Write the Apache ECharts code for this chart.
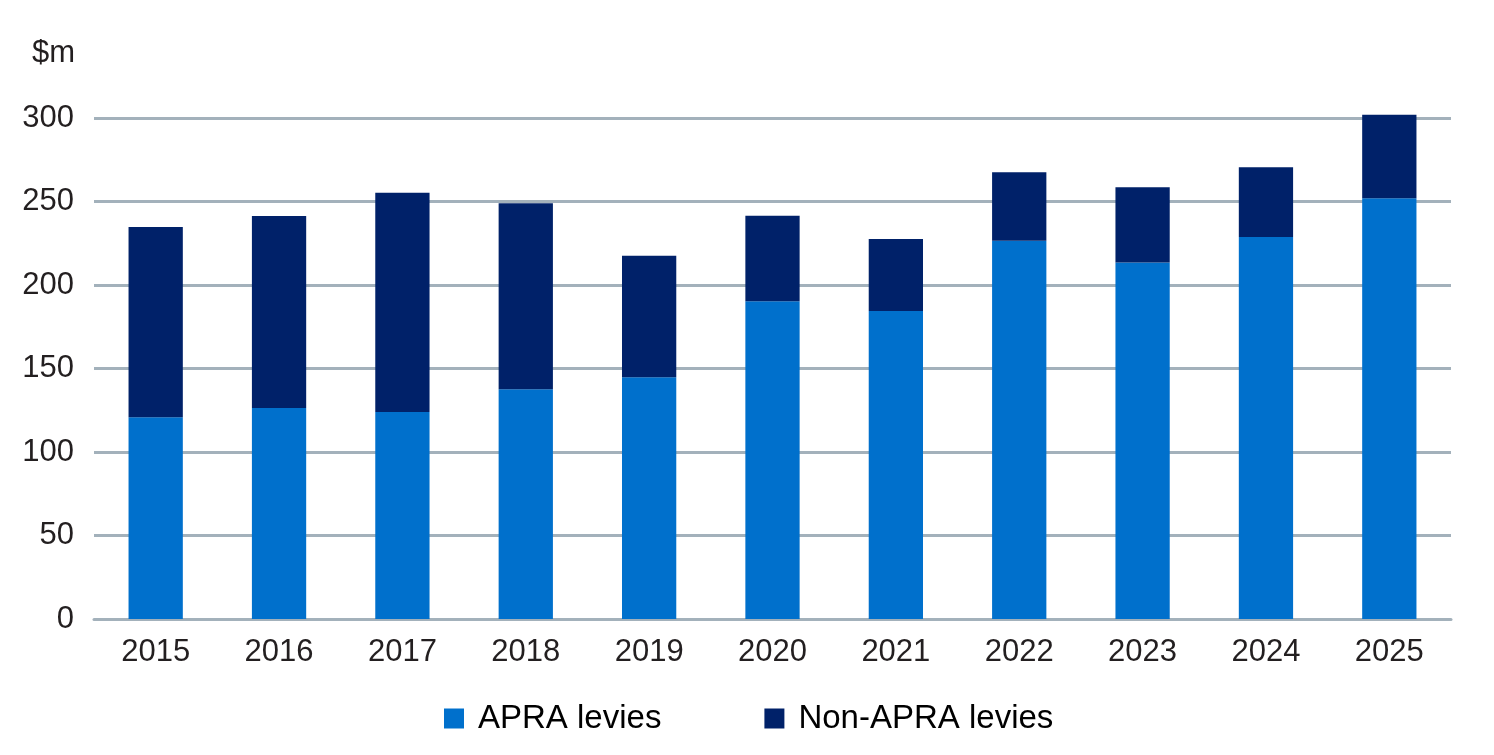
<!DOCTYPE html>
<html>
<head>
<meta charset="utf-8">
<script src="https://cdn.jsdelivr.net/npm/echarts@6/dist/echarts.min.js"></script>
<style>
  html, body { margin: 0; padding: 0; background: #fff; }
  #chart { width: 1494px; height: 755px; }
</style>
</head>
<body>
<div id="chart"></div>
<script>
const years = ['2015', '2016', '2017', '2018', '2019', '2020', '2021', '2022', '2023', '2024', '2025'];
const apraLevies = [120.8, 126.4, 124, 137.6, 144.8, 190.3, 184.5, 226.5, 213.5, 228.7, 252];
const nonApraLevies = [113.9, 114.9, 131.2, 111.4, 72.7, 51.2, 43, 41, 45, 41.8, 50];
const yTicks = [0, 50, 100, 150, 200, 250, 300];

const chart = echarts.init(document.getElementById('chart'));
const font = 'Liberation Sans, Arial, sans-serif';

chart.setOption({
  animation: false,
  title: {
    text: '$m',
    left: 27,
    top: 33,
    textStyle: { fontFamily: font, fontSize: 31, fontWeight: 'normal', color: '#231f20' }
  },
  legend: {
    data: ['APRA levies', 'Non-APRA levies'],
    left: 439,
    top: 697,
    icon: 'rect',
    itemWidth: 20,
    itemHeight: 20,
    itemGap: 103,
    textStyle: { fontFamily: font, fontSize: 33, color: '#000', padding: [0, 0, 0, 9] }
  },
  grid: { left: 94, right: 43, top: 118, bottom: 136 },
  xAxis: {
    type: 'category',
    data: years,
    axisTick: { show: false },
    axisLine: { lineStyle: { color: '#a3b1bb', width: 3 } },
    axisLabel: { fontFamily: font, fontSize: 31, color: '#231f20', margin: 18 }
  },
  yAxis: {
    type: 'value',
    min: yTicks[0],
    max: yTicks[yTicks.length - 1],
    interval: 50,
    axisLine: { show: false },
    axisTick: { show: false },
    splitLine: { lineStyle: { color: '#a3b1bb', width: 3 } },
    axisLabel: { fontFamily: font, fontSize: 31, color: '#231f20', margin: 20 }
  },
  series: [
    {
      name: 'APRA levies',
      type: 'bar',
      stack: 'total',
      barWidth: '44%',
      clip: false,
      itemStyle: { color: '#0070cc' },
      data: apraLevies
    },
    {
      name: 'Non-APRA levies',
      type: 'bar',
      stack: 'total',
      barWidth: '44%',
      clip: false,
      itemStyle: { color: '#002169' },
      data: nonApraLevies
    }
  ]
});
</script>
</body>
</html>
